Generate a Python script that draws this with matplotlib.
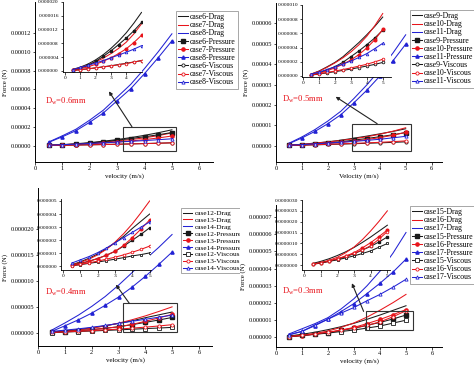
import matplotlib
matplotlib.use('Agg')
import numpy as np
import matplotlib.pyplot as plt
from matplotlib.patches import Rectangle
from matplotlib.ticker import FixedLocator, FormatStrFormatter
from matplotlib.transforms import Bbox, TransformedBbox

plt.rcParams['font.family'] = ['Liberation Serif', 'DejaVu Serif']
plt.rcParams['mathtext.fontset'] = 'custom'
plt.rcParams['mathtext.rm'] = 'Liberation Serif'
plt.rcParams['mathtext.it'] = 'Liberation Serif:italic'

# ---------------- data (forces in micro-newton, velocity in m/s) ----------------
velocity = [0.5, 1.0, 1.5, 2.0, 2.5, 3.0, 3.5, 4.0, 4.5, 5.0]

case6_drag     = [0.45, 1.1, 2.0, 3.2, 4.7, 6.5, 8.6, 11.0, 13.8, 16.9]
case7_drag     = [0.40, 0.95, 1.7, 2.6, 3.7, 5.0, 6.5, 8.3, 10.7, 13.6]
case8_drag     = [3.9, 10.5, 17.6, 27.3, 38.0, 51.8, 65.6, 82.4, 100.3, 119.5]
case6_pressure = [0.30, 0.8, 1.6, 2.8, 4.2, 5.8, 7.6, 9.5, 11.6, 14.0]
case7_pressure = [0.25, 0.65, 1.2, 1.9, 2.8, 3.8, 5.0, 6.4, 8.2, 10.3]
case8_pressure = [3.5, 9.5, 16.0, 25.0, 35.0, 48.0, 61.0, 77.0, 94.0, 112.0]
case6_viscous  = [0.15, 0.38, 0.62, 0.9, 1.2, 1.5, 1.85, 2.2, 2.6, 3.0]
case7_viscous  = [0.15, 0.35, 0.6, 0.87, 1.15, 1.45, 1.8, 2.15, 2.55, 3.0]
case8_viscous  = [0.4, 1.0, 1.6, 2.3, 3.0, 3.8, 4.6, 5.4, 6.3, 7.3]

case9_drag      = [0.26, 0.69, 1.28, 1.91, 2.7, 3.69, 4.7, 5.81, 6.98, 8.3]
case10_drag     = [0.25, 0.66, 1.21, 1.84, 2.55, 3.38, 4.38, 5.6, 7.08, 8.8]
case11_drag     = [1.2, 4.3, 7.9, 12.1, 16.9, 23.1, 29.8, 37.2, 45.3, 54.4]
case9_pressure  = [0.14, 0.42, 0.85, 1.31, 1.92, 2.72, 3.52, 4.41, 5.35, 6.45]
case10_pressure = [0.12, 0.36, 0.72, 1.15, 1.65, 2.25, 3.0, 3.95, 5.1, 6.55]
case11_pressure = [1.0, 3.8, 7.0, 10.8, 15.2, 21.0, 27.2, 34.1, 41.5, 49.8]
case9_viscous   = [0.12, 0.27, 0.43, 0.6, 0.78, 0.97, 1.18, 1.4, 1.63, 1.9]
case10_viscous  = [0.13, 0.3, 0.49, 0.69, 0.9, 1.13, 1.38, 1.65, 1.98, 2.35]
case11_viscous  = [0.22, 0.55, 0.9, 1.28, 1.68, 2.1, 2.6, 3.15, 3.85, 4.6]

case12_drag     = [0.12, 0.35, 0.62, 0.95, 1.35, 1.8, 2.3, 2.9, 3.45, 4.0]
case13_drag     = [0.1, 0.3, 0.55, 0.88, 1.3, 1.85, 2.5, 3.25, 4.1, 5.0]
case14_drag     = [0.5, 1.9, 3.4, 5.1, 7.0, 9.2, 11.6, 14.2, 16.5, 19.0]
case12_pressure = [0.08, 0.22, 0.4, 0.6, 0.85, 1.15, 1.55, 2.0, 2.45, 2.95]
case13_pressure = [0.08, 0.2, 0.38, 0.6, 0.85, 1.15, 1.6, 2.2, 2.85, 3.55]
case14_pressure = [0.26, 1.35, 2.5, 3.8, 5.3, 6.9, 8.8, 10.9, 13.2, 15.6]
case12_viscous  = [0.04, 0.13, 0.23, 0.33, 0.44, 0.55, 0.67, 0.8, 0.9, 1.03]
case13_viscous  = [0.05, 0.15, 0.27, 0.4, 0.55, 0.7, 0.88, 1.08, 1.3, 1.55]
case14_viscous  = [0.25, 0.5, 0.75, 1.05, 1.4, 1.8, 2.2, 2.6, 3.0, 3.4]

case15_drag     = [0.08, 0.18, 0.3, 0.45, 0.62, 0.82, 1.05, 1.3, 1.57, 1.84]
case16_drag     = [0.05, 0.12, 0.23, 0.37, 0.58, 0.84, 1.18, 1.58, 2.02, 2.5]
case17_drag     = [0.2, 0.5, 0.8, 1.15, 1.65, 2.25, 3.0, 3.85, 4.9, 6.1]
case15_pressure = [0.05, 0.11, 0.19, 0.28, 0.4, 0.53, 0.7, 0.87, 1.07, 1.3]
case16_pressure = [0.04, 0.1, 0.18, 0.28, 0.42, 0.58, 0.8, 1.04, 1.32, 1.62]
case17_pressure = [0.15, 0.35, 0.68, 1.06, 1.5, 1.97, 2.55, 3.15, 3.8, 4.55]
case15_viscous  = [0.05, 0.11, 0.18, 0.25, 0.34, 0.43, 0.54, 0.66, 0.83, 1.0]
case16_viscous  = [0.05, 0.12, 0.2, 0.3, 0.42, 0.55, 0.7, 0.9, 1.2, 1.55]
case17_viscous  = [0.15, 0.35, 0.73, 1.06, 1.41, 1.74, 2.13, 2.5, 2.92, 3.38]

UNIT = 1e-6  # micro-newton -> N

BLACK = '#1a1a1a'
RED = '#e8141b'
BLUE = '#2222d4'
W, H = 474, 366

fig = plt.figure(figsize=(W / 100, H / 100), dpi=100)


def px_axes(left, top, right, bottom):
    return fig.add_axes([left / W, 1 - bottom / H, (right - left) / W, (bottom - top) / H])


def style_axes(ax, fs, lw=0.7):
    for s in ['top', 'right']:
        ax.spines[s].set_visible(False)
    for s in ['left', 'bottom']:
        ax.spines[s].set_linewidth(lw)
    ax.tick_params(direction='out', length=1.8, width=0.5, labelsize=fs, pad=1)


def draw_series(ax, series, ms=2.3):
    handles = []
    for label, vals, color, kind, marker in series:
        y = np.array(vals) * UNIT
        if kind == 'drag':
            h, = ax.plot(velocity, y, color=color, lw=0.75, label=label)
        elif kind == 'pressure':
            h, = ax.plot(velocity, y, color=color, lw=0.75, marker=marker, ms=ms,
                         mfc=color, mec=color, label=label)
        else:
            h, = ax.plot(velocity, y, color=color, lw=0.75, marker=marker, ms=ms,
                         mfc='white', mec=color, mew=0.6, label=label)
        handles.append(h)
    return handles


panels = [
    dict(
        main=(35, 2, 213, 162), xlim=(0, 6.5), ylim=(-1.75e-5, 1.535e-4),
        yticks=np.arange(0, 1.21e-4, 2e-5), yfmt='%.5f', xlabel='velocity (m/s)',
        inset=(62.7, 1.7, 141.5, 72), ixlim=(-0.15, 5.0), iylim=(-0.3e-6, 2e-5),
        iyticks=np.arange(0, 2.01e-5, 4e-6), iyfmt='%.6f', ixticks=[0, 1, 2, 3, 4],
        series=[('case6-Drag', case6_drag, BLACK, 'drag', None),
                ('case7-Drag', case7_drag, RED, 'drag', None),
                ('case8-Drag', case8_drag, BLUE, 'drag', None),
                ('case6-Pressure', case6_pressure, BLACK, 'pressure', 's'),
                ('case7-Pressure', case7_pressure, RED, 'pressure', 'o'),
                ('case8-Pressure', case8_pressure, BLUE, 'pressure', '^'),
                ('case6-Viscous', case6_viscous, BLACK, 'viscous', 'o'),
                ('case7-Viscous', case7_viscous, RED, 'viscous', 'o'),
                ('case8-Viscous', case8_viscous, BLUE, 'viscous', '^')],
        inset_skip=['case8-Drag', 'case8-Pressure'],
        rect=(3.22, -5.3e-6, 1.94, 2.55e-5), arrow=((3.54, 2.02e-5), (2.7, 5.8e-5)),
        text=(0.35, 4.78e-5, '0.6'), legend=(176, 11), lfs=5.6, clip=(0, 240)),
    dict(
        main=(276, 3, 442, 162), xlim=(0, 6.4), ylim=(-0.8e-5, 7.0e-5),
        yticks=np.arange(0, 6.01e-5, 1e-5), yfmt='%.5f', xlabel='Velocity (m/s)',
        inset=(302.3, 5, 390.7, 77), ixlim=(-0.05, 5.5), iylim=(-0.15e-6, 1e-5),
        iyticks=np.arange(0, 1.01e-5, 2e-6), iyfmt='%.6f', ixticks=[0, 1, 2, 3, 4, 5],
        series=[('case9-Drag', case9_drag, BLACK, 'drag', None),
                ('case10-Drag', case10_drag, RED, 'drag', None),
                ('case11-Drag', case11_drag, BLUE, 'drag', None),
                ('case9-Pressure', case9_pressure, BLACK, 'pressure', 's'),
                ('case10-Pressure', case10_pressure, RED, 'pressure', 'o'),
                ('case11-Pressure', case11_pressure, BLUE, 'pressure', '^'),
                ('case9-Viscous', case9_viscous, BLACK, 'viscous', 'o'),
                ('case10-Viscous', case10_viscous, RED, 'viscous', 'o'),
                ('case11-Viscous', case11_viscous, BLUE, 'viscous', '^')],
        inset_skip=['case11-Drag', 'case11-Pressure'],
        rect=(2.93, -0.27e-5, 2.28, 1.35e-5), arrow=((3.9, 1.08e-5), (2.3, 2.4e-5)),
        text=(0.23, 2.26e-5, '0.5'), legend=(410, 10), lfs=5.6, clip=(237, 474)),
    dict(
        main=(38.3, 188, 212.2, 346.3), xlim=(0, 6.5), ylim=(-2.63e-6, 2.8e-5),
        yticks=np.arange(0, 2.01e-5, 5e-6), yfmt='%.6f', xlabel='velocity (m/s)',
        inset=(61.3, 199, 150.5, 270.3), ixlim=(-0.1, 5.05), iylim=(-0.3e-6, 5.15e-6),
        iyticks=np.arange(0, 5.01e-6, 1e-6), iyfmt='%.6f', ixticks=[0, 1, 2, 3, 4, 5],
        series=[('case12-Drag', case12_drag, BLACK, 'drag', None),
                ('case13-Drag', case13_drag, RED, 'drag', None),
                ('case14-Drag', case14_drag, BLUE, 'drag', None),
                ('case12-Pressure', case12_pressure, BLACK, 'pressure', 's'),
                ('case13-Pressure', case13_pressure, RED, 'pressure', 'o'),
                ('case14-Pressure', case14_pressure, BLUE, 'pressure', '^'),
                ('case12-Viscous', case12_viscous, BLACK, 'viscous', 's'),
                ('case13-Viscous', case13_viscous, RED, 'viscous', 'o'),
                ('case14-Viscous', case14_viscous, BLUE, 'viscous', '^')],
        inset_skip=['case14-Drag', 'case14-Pressure'],
        rect=(3.15, 0.1e-6, 2.03, 5.6e-6), arrow=((3.4, 5.7e-6), (2.9, 9.3e-6)),
        text=(0.25, 7.8e-6, '0.4'), legend=(181, 208), lfs=5.25, clip=(0, 240)),
    dict(
        main=(276, 205, 442.4, 347), xlim=(0, 6.4), ylim=(-0.56e-6, 7.7e-6),
        yticks=np.arange(0, 7.01e-6, 1e-6), yfmt='%.6f', xlabel='velocity (m/s)',
        inset=(301.7, 200, 389.5, 270), ixlim=(-0.16, 5.13), iylim=(-0.22e-6, 3e-6),
        iyticks=np.arange(0, 3.01e-6, 5e-7), iyfmt='%.7f', ixticks=[0, 1, 2, 3, 4, 5],
        series=[('case15-Drag', case15_drag, BLACK, 'drag', None),
                ('case16-Drag', case16_drag, RED, 'drag', None),
                ('case17-Drag', case17_drag, BLUE, 'drag', None),
                ('case15-Pressure', case15_pressure, BLACK, 'pressure', 's'),
                ('case16-Pressure', case16_pressure, RED, 'pressure', 'o'),
                ('case17-Pressure', case17_pressure, BLUE, 'pressure', '^'),
                ('case15-Viscous', case15_viscous, BLACK, 'viscous', 's'),
                ('case16-Viscous', case16_viscous, RED, 'viscous', 'o'),
                ('case17-Viscous', case17_viscous, BLUE, 'viscous', '^')],
        inset_skip=['case17-Drag', 'case17-Pressure', 'case17-Viscous'],
        rect=(3.46, 0.44e-6, 1.81, 1.07e-6), arrow=((3.37, 1.51e-6), (2.92, 3.15e-6)),
        text=(0.23, 2.67e-6, '0.3'), legend=(410, 206), lfs=5.6, clip=(237, 474)),
]

for p in panels:
    ax = px_axes(*p['main'])
    style_axes(ax, 4.6)
    handles = draw_series(ax, p['series'])
    ax.set_xlim(*p['xlim'])
    ax.set_ylim(*p['ylim'])
    ax.xaxis.set_major_locator(FixedLocator([0, 1, 2, 3, 4, 5, 6]))
    ax.yaxis.set_major_locator(FixedLocator(p['yticks']))
    ax.yaxis.set_major_formatter(FormatStrFormatter(p['yfmt']))
    ax.set_ylabel('Force (N)', fontsize=5, labelpad=2)
    ax.set_xlabel(p['xlabel'], fontsize=5, labelpad=1.5)
    x0, y0, w, h = p['rect']
    ax.add_patch(Rectangle((x0, y0), w, h, fill=False, lw=0.8, ec='#333333', zorder=5))
    (sx, sy), (hx, hy) = p['arrow']
    ax.annotate('', xy=(hx, hy), xytext=(sx, sy),
                arrowprops=dict(arrowstyle='-|>', lw=0.8, color='#222222',
                                mutation_scale=5, shrinkA=0, shrinkB=0), zorder=6)
    tx, ty, dval = p['text']
    ax.text(tx, ty, r'$\mathregular{D_w}$=' + dval + 'mm', color=RED, fontsize=6.2,
            va='center', ha='left')

    axi = px_axes(*p['inset'])
    axi.set_zorder(3)
    style_axes(axi, 3.9, lw=0.6)
    inset_series = [s for s in p['series'] if s[0] not in p['inset_skip']]
    draw_series(axi, inset_series, ms=1.9)
    axi.set_xlim(*p['ixlim'])
    axi.set_ylim(*p['iylim'])
    axi.xaxis.set_major_locator(FixedLocator(p['ixticks']))
    axi.yaxis.set_major_locator(FixedLocator(p['iyticks']))
    axi.yaxis.set_major_formatter(FormatStrFormatter(p['iyfmt']))

    lx, ly = p['legend']
    fs = p['lfs']
    leg = fig.legend(handles=handles, loc='upper left',
                     bbox_to_anchor=(lx / W, 1 - ly / H), borderaxespad=0,
                     fontsize=fs, labelspacing=0.02 + (5.6 - fs) * 0.25,
                     handlelength=1.25, handletextpad=0.3, borderpad=0.28,
                     numpoints=1, fancybox=False, edgecolor='#999999', framealpha=1)
    leg.get_frame().set_linewidth(0.6)
    leg.set_zorder(10)
    c0, c1 = p['clip']
    clipbox = TransformedBbox(Bbox.from_extents(c0 / W, 0, c1 / W, 1), fig.transFigure)
    for a in leg.findobj():
        a.set_clip_box(clipbox)
        a.set_clip_on(True)

fig.savefig('out.png', dpi=100)
